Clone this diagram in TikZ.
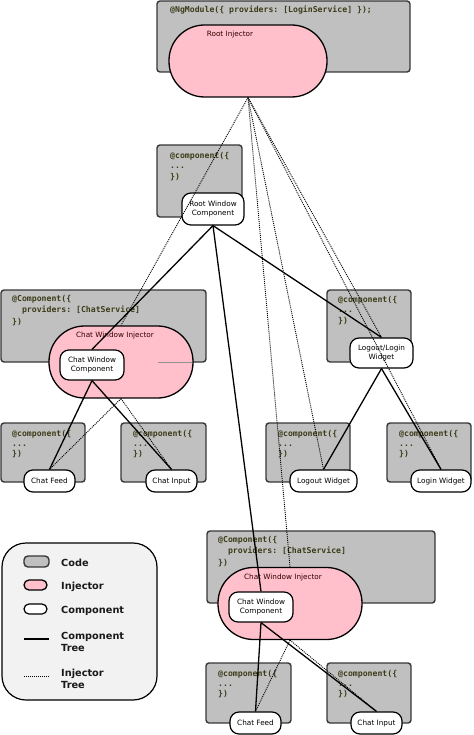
\documentclass[tikz,border=0pt]{standalone}
\usepackage{fontspec}
\setmainfont{DejaVu Sans}
\setmonofont{DejaVu Sans Mono}
\definecolor{codegray}{RGB}{192,192,192}
\definecolor{codeborder}{RGB}{55,55,55}
\definecolor{codetext}{RGB}{60,60,25}
\definecolor{injpink}{RGB}{255,192,203}
\definecolor{legendfill}{RGB}{242,242,242}
\tikzset{
  codebox/.style={draw=codeborder, fill=codegray, line width=1.4bp, rounded corners=3bp, inner sep=0pt},
  injector/.style={draw=black, fill=injpink, line width=1.3bp, inner sep=0pt, rounded corners=35.5bp},
  comp/.style={draw=black, fill=white, line width=1.2bp, inner sep=0pt, rounded corners=9bp, align=center, font=\fontsize{7.3}{8.8}\selectfont, text=black},
  code/.style={anchor=base west, inner sep=0pt, text=codetext, font=\ttfamily\bfseries\fontsize{8.2}{10}\selectfont},
  injlabel/.style={inner sep=0pt, text=black!80!red, font=\fontsize{7.3}{8.8}\selectfont},
  ctree/.style={draw=black, line width=1.3bp},
  itree/.style={draw=black, line width=0.9bp, dash pattern=on 1bp off 1bp},
  legtext/.style={anchor=west, inner sep=0pt, align=left, font=\bfseries\fontsize{9.8}{12}\selectfont, text=black!90}
}
\begin{document}
\begin{tikzpicture}[x=1bp,y=-1bp]
\useasboundingbox (0,0) rectangle (474,735);
% ---------- root module ----------
\node[codebox, minimum width=253bp, minimum height=71bp] (rootcode) at (283.5,36.5) {};
\node[code] (rootcodet) at (170,13) {@NgModule(\{ providers: [LoginService] \});};
\node[injector, minimum width=158bp, minimum height=72bp] (rootinj) at (248,61) {};
\node[injlabel] (rootinjl) at (230,34) {Root Injector};
% ---------- root window ----------
\node[codebox, minimum width=85bp, minimum height=72bp] (rwcode) at (199.5,181) {};
\node[code] (rwc1) at (170,158) {@component(\{};
\node[code] (rwc2) at (170,168.5) {...};
\node[code] (rwc3) at (170,179) {\})};
\node[comp, minimum width=62bp, minimum height=32bp] (rwc) at (213,209) {Root Window\\Component};
% ---------- left chat window ----------
\node[codebox, minimum width=205bp, minimum height=72bp] (cwcode) at (103.5,326) {};
\node[code] (cwc1) at (12,301) {@Component(\{};
\node[code] (cwc2) at (12,312.5) {\phantom{xx}providers: [ChatService]};
\node[code] (cwc3) at (12,324) {\})};
\node[injector, minimum width=144bp, minimum height=72bp] (cwinj) at (121,362) {};
\draw[codeborder!55, line width=0.6bp] (158,362) -- (192,362);
\node[injlabel] (cwinjl) at (115,335) {Chat Window Injector};
\node[comp, minimum width=64bp, minimum height=30bp] (cwc) at (92,365) {Chat Window\\Component};
% chat feed / input
\node[codebox, minimum width=84bp, minimum height=59bp] (cfcode) at (43,452.5) {};
\node[code] (cfc1) at (12,436) {@component(\{};
\node[code] (cfc2) at (12,446) {...};
\node[code] (cfc3) at (12,456) {\})};
\node[comp, minimum width=51bp, minimum height=22bp] (cf) at (49.5,481) {Chat Feed};
\node[codebox, minimum width=85bp, minimum height=59bp] (cicode) at (163.5,452.5) {};
\node[code] (cic1) at (133,436) {@component(\{};
\node[code] (cic2) at (133,446) {...};
\node[code] (cic3) at (133,456) {\})};
\node[comp, minimum width=51bp, minimum height=22bp] (ci) at (171.5,481) {Chat Input};
% ---------- logout/login ----------
\node[codebox, minimum width=84bp, minimum height=72bp] (llcode) at (369,326) {};
\node[code] (llc1) at (338,302) {@component(\{};
\node[code] (llc2) at (338,312.5) {...};
\node[code] (llc3) at (338,323) {\})};
\node[comp, minimum width=63bp, minimum height=30bp] (ll) at (381.5,353) {Logout/Login\\Widget};
\node[codebox, minimum width=84bp, minimum height=59bp] (locode) at (308,452.5) {};
\node[code] (loc1) at (278,436) {@component(\{};
\node[code] (loc2) at (278,446) {...};
\node[code] (loc3) at (278,456) {\})};
\node[comp, minimum width=67bp, minimum height=22bp] (lo) at (323.5,481) {Logout Widget};
\node[codebox, minimum width=84bp, minimum height=59bp] (licode) at (429,452.5) {};
\node[code] (lic1) at (399,436) {@component(\{};
\node[code] (lic2) at (399,446) {...};
\node[code] (lic3) at (399,456) {\})};
\node[comp, minimum width=60bp, minimum height=22bp] (li) at (441,481) {Login Widget};
% ---------- bottom chat window ----------
\node[codebox, minimum width=228bp, minimum height=72bp] (bcwcode) at (321,567) {};
\node[code] (bcwc1) at (218,542) {@Component(\{};
\node[code] (bcwc2) at (218,553.5) {\phantom{xx}providers: [ChatService]};
\node[code] (bcwc3) at (218,565) {\})};
\node[injector, minimum width=144bp, minimum height=72bp] (bcwinj) at (290,603.5) {};
\node[injlabel] (bcwinjl) at (283,577) {Chat Window Injector};
\node[comp, minimum width=64bp, minimum height=30bp] (bcwc) at (261,607) {Chat Window\\Component};
\node[codebox, minimum width=85bp, minimum height=60bp] (bcfcode) at (248.5,693) {};
\node[code] (bcfc1) at (218,676) {@component(\{};
\node[code] (bcfc2) at (218,686) {...};
\node[code] (bcfc3) at (218,696) {\})};
\node[comp, minimum width=51bp, minimum height=22bp] (bcf) at (255.5,723) {Chat Feed};
\node[codebox, minimum width=84bp, minimum height=60bp] (bcicode) at (369,693) {};
\node[code] (bcic1) at (338,676) {@component(\{};
\node[code] (bcic2) at (338,686) {...};
\node[code] (bcic3) at (338,696) {\})};
\node[comp, minimum width=51bp, minimum height=22bp] (bci) at (376.5,723) {Chat Input};
% ---------- legend ----------
\node[draw=black, fill=legendfill, line width=1.2bp, rounded corners=24bp, minimum width=155bp, minimum height=157bp, inner sep=0pt] (legend) at (79.5,621.5) {};
\node[codebox, rounded corners=4bp, minimum width=25bp, minimum height=11bp] (legcode) at (36.5,561.5) {};
\node[injector, rounded corners=5bp, minimum width=23bp, minimum height=10bp] (leginj) at (35.5,585) {};
\node[comp, rounded corners=5bp, minimum width=23bp, minimum height=10bp] (legcomp) at (35.5,609) {};
\coordinate (lsa) at (24,639);
\coordinate (lsb) at (49,639);
\coordinate (lda) at (24,676);
\coordinate (ldb) at (49,676);
\draw[ctree] (lsa) -- (lsb);
\draw[itree] (lda) -- (ldb);
\node[legtext] (lt1) at (61,563) {Code};
\node[legtext] (lt2) at (61,587) {Injector};
\node[legtext] (lt3) at (61,611) {Component};
\node[legtext] (lt4) at (61,642) {Component\\Tree};
\node[legtext] (lt5) at (61,678.5) {Injector\\Tree};
% ---------- component tree ----------
\draw[ctree] (rwc.south) -- (cwc.north);
\draw[ctree] (rwc.south) -- (ll.north);
\draw[ctree] (rwc.south) -- (bcwc.north);
\draw[ctree] (cwc.south) -- (cf.north);
\draw[ctree] (cwc.south) -- (ci.north);
\draw[ctree] (ll.south) -- (lo.north);
\draw[ctree] (ll.south) -- (li.north);
\draw[ctree] (bcwc.south) -- (bcf.north);
\draw[ctree] (bcwc.south) -- (bci.north);
% ---------- injector tree ----------
\draw[itree] (rootinj.south) -- (cwinj.north);
\draw[itree] (rootinj.south) -- (bcwinj.north);
\draw[itree] (rootinj.south) -- (lo.north);
\draw[itree] (rootinj.south) -- (ll.north);
\draw[itree] (rootinj.south) -- (li.north);
\draw[itree] (cwinj.south) -- (cf.north);
\draw[itree] (cwinj.south) -- (ci.north);
\draw[itree] (bcwinj.south) -- (bcf.north);
\draw[itree] (bcwinj.south) -- (bci.north);
\end{tikzpicture}
\end{document}
